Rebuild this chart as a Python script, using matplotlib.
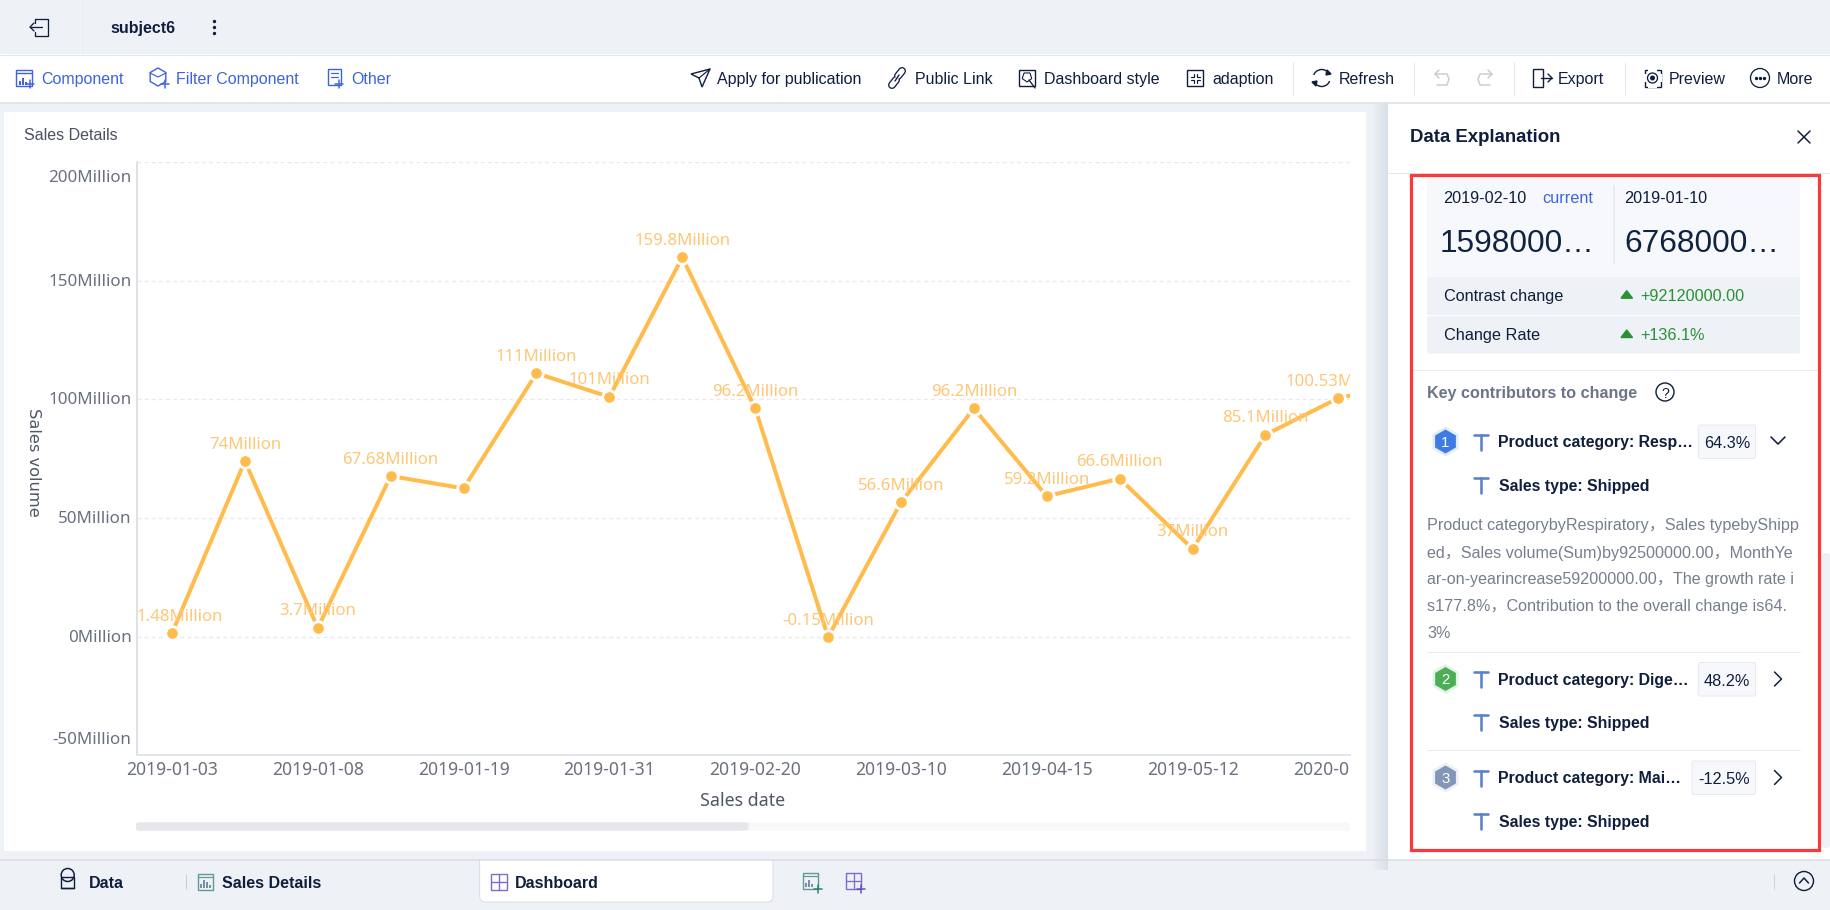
"""Sales Details dashboard with the Data Explanation panel"""

import matplotlib
matplotlib.use('Agg')
import matplotlib.pyplot as plt
from matplotlib.patches import Rectangle, FancyBboxPatch, Circle, RegularPolygon, Polygon
from matplotlib.transforms import ScaledTranslation

W, H = 1830, 910
PX = 0.72  # px to pt at dpi 100

# chart data
tick_dates = ['2019-01-03', '2019-01-08', '2019-01-19', '2019-01-31', '2019-02-20',
              '2019-03-10', '2019-04-15', '2019-05-12', '2020-0']
sales = [1.48, 74, 3.7, 67.68, 62.5, 111, 101, 159.8, 96.2, -0.15, 56.6, 96.2,
         59.2, 66.6, 37, 85.1, 100.53, 107]
point_labels = ['1.48Million', '74Million', '3.7Million', '67.68Million', None, '111Million',
                '101Million', '159.8Million', '96.2Million', '-0.15Million', '56.6Million',
                '96.2Million', '59.2Million', '66.6Million', '37Million', '85.1Million',
                '100.53Million', None]
y_ticks = [-50, 0, 50, 100, 150, 200]
y_tick_labels = ['-50Million', '0Million', '50Million', '100Million', '150Million', '200Million']

# panel text
toolbar_left = [('Component', 41), ('Filter Component', 175.6), ('Other', 351)]
toolbar_right = [('Apply for publication', 717), ('Public Link', 915), ('Dashboard style', 1044),
                 ('adaption', 1212), ('Refresh', 1339), ('Export', 1558), ('Preview', 1669),
                 ('More', 1776.7)]
explain_lines = ['Product categorybyRespiratory，Sales typebyShipp',
                 'ed，Sales volume(Sum)by92500000.00，MonthYe',
                 'ar-on-yearincrease59200000.00，The growth rate i',
                 's177.8%，Contribution to the overall change is64.',
                 '3%']
contributors = [('1', 'Product category: Resp…', '64.3%', '#3F7BE3', 441.5, 1698.3),
                ('2', 'Product category: Dige…', '48.2%', '#4CAF58', 679, 1698.3),
                ('3', 'Product category: Mai…', '-12.5%', '#8296B8', 777.5, 1692)]

BG = '#EEF1F6'
BLUE = '#3E63E0'
DARK = '#0F1E3C'
LINE = '#FFBC4C'
LABEL = '#FDC777'
GREEN = '#2A9135'
UI = ['Liberation Sans', 'Noto Sans CJK SC']

fig = plt.figure(figsize=(W / 100, H / 100), dpi=100, facecolor=BG)
ui = fig.add_axes([0, 0, 1, 1], zorder=0)
ui.set_xlim(0, W)
ui.set_ylim(H, 0)
ui.axis('off')


def rect(x0, y0, x1, y1, color, z=1, **kw):
    ui.add_patch(Rectangle((x0, y0), x1 - x0, y1 - y0, facecolor=color, edgecolor='none', zorder=z, **kw))


def rrect(x0, y0, x1, y1, face, edge='none', r=3, lw=1, z=2):
    ui.add_patch(FancyBboxPatch((x0 + r, y0 + r), x1 - x0 - 2 * r, y1 - y0 - 2 * r,
                                boxstyle=f'round,pad={r},rounding_size={r}', facecolor=face,
                                edgecolor=edge, linewidth=lw * PX, zorder=z))


def seg(xs, ys, color=DARK, lw=1.4, z=3):
    ui.plot(xs, ys, color=color, linewidth=lw * PX, zorder=z, solid_capstyle='round')


def txt(x, y, s, size=16, color=DARK, weight='normal', ha='left', family=UI, **kw):
    ui.text(x, y, s, fontsize=size * PX, color=color, fontweight=weight, ha=ha,
            va='center_baseline', family=family, zorder=5, **kw)


def box_icon(cx, cy, color=DARK, w=16, h=18):
    ui.add_patch(Rectangle((cx - w / 2, cy - h / 2), w, h, facecolor='none', edgecolor=color,
                           linewidth=1.4 * PX, zorder=3))


def plus(cx, cy, color, s=5, lw=1.5):
    seg([cx - s, cx + s], [cy, cy], color, lw)
    seg([cx, cx], [cy - s, cy + s], color, lw)


def t_icon(cx, cy):
    seg([cx - 7, cx + 7], [cy - 7, cy - 7], '#5B82CC', 2.6)
    seg([cx, cx], [cy - 7, cy + 8], '#5B82CC', 2.6)


def mini_bars(xs, heights, base, color):
    ui.bar(xs, [-h for h in heights], bottom=base, width=1.5, color=color, zorder=3)


# page blocks
rect(0, 54, W, 102, 'white')
seg([0, W], [54.5, 54.5], '#E2E5EA', 1.2)
seg([0, W], [102.5, 102.5], '#DFE2E7', 1.5)
seg([83, 83], [0, 54], '#E8EBF0', 1)
rect(4, 112, 1366, 851, 'white')
seg([0, W], [860, 860], '#D9DCE6', 1.5)

# panel shadow
for i in range(16):
    rect(1372 + i, 103, 1373 + i, 870, '#8A94A8', z=1.5, alpha=0.012 * (i + 1))
rect(1388, 103, W, 860, 'white', z=2)
seg([1388, W], [173, 173], '#E4E6EC', 1)

# top bar
x = 40
seg([x - 5, x + 8, x + 8, x - 5, x - 5], [19, 19, 36, 36, 32], DARK, 1.3)
seg([x - 5, x - 5], [19, 23], DARK, 1.3)
seg([x - 10, x + 2], [27, 27], DARK, 1.3)
seg([x - 6, x - 10, x - 6], [23, 27, 31], DARK, 1.3)
txt(110.3, 27, 'subject6', 16, DARK, 'bold')
ui.scatter([213.5] * 3, [21, 27, 33], s=2, color=DARK, zorder=3)

# toolbar
for s, x in toolbar_left:
    txt(x, 78, s, 16, BLUE)
box_icon(24, 78, BLUE, 16, 16)
seg([16, 32], [73, 73], BLUE, 1.4)
mini_bars([20, 23, 26], [4, 7, 3], 85, BLUE)
plus(30, 84, BLUE, 4)
ui.add_patch(RegularPolygon((158, 77), 6, radius=9, facecolor='none', edgecolor=BLUE, linewidth=1.4 * PX, zorder=3))
seg([150, 158, 166], [73, 77, 73], BLUE, 1.2)
plus(165, 84, BLUE, 4)
box_icon(334.5, 77, BLUE, 13, 16)
seg([331, 338], [73, 73], BLUE, 1.2)
seg([331, 338], [77, 77], BLUE, 1.2)
plus(339, 84, BLUE, 4)
for s, x in toolbar_right:
    txt(x, 78, s, 16, DARK)

# apply for publication
ui.add_patch(Polygon([(691, 74), (710, 69), (702, 87), (699, 78)], closed=True, facecolor='none',
                     edgecolor=DARK, linewidth=1.4 * PX, zorder=3))
seg([699, 710], [78, 69], DARK, 1.2)
# public link
for x0, y0, x1, y1 in [(892, 85, 896, 80), (898, 76, 902, 71)]:
    seg([x0, x1], [y0, y1], DARK, 8, z=3)
    seg([x0, x1], [y0, y1], 'white', 5.4, z=3.2)
seg([895, 899], [81, 75], DARK, 1.4, z=3.4)
# dashboard style
box_icon(1027, 78, DARK, 16, 16)
ui.add_patch(RegularPolygon((1027, 77), 5, radius=5, facecolor='none', edgecolor=DARK, linewidth=1.1 * PX, zorder=3))
seg([1029, 1035], [80, 88], DARK, 1.3, z=3)
# adaption
box_icon(1195, 78, DARK, 16, 16)
for sx in (-1, 1):
    for sy in (-1, 1):
        seg([1195 + sx * 4.5, 1195 + sx * 1.5, 1195 + sx * 1.5], [78 + sy * 1.5, 78 + sy * 1.5, 78 + sy * 4.5], DARK, 1.2)
# refresh
ui.add_patch(Circle((1321.7, 78), 8.5, facecolor='none', edgecolor=DARK, linewidth=1.4 * PX, zorder=3))
rect(1312, 75, 1332, 81, 'white', z=3.5)
ui.add_patch(Polygon([(1327, 70), (1331, 74), (1326, 75)], closed=True, color=DARK, zorder=4))
ui.add_patch(Polygon([(1316, 86), (1312, 82), (1317, 81)], closed=True, color=DARK, zorder=4))
# undo, redo
for cx, d in [(1442, 1), (1485, -1)]:
    seg([cx - 7 * d, cx + 5 * d, cx + 7 * d, cx + 5 * d, cx - 5 * d], [74, 74, 79, 85, 85], '#C9CDD4', 1.5)
    seg([cx - 3 * d, cx - 7 * d, cx - 3 * d], [70, 74, 78], '#C9CDD4', 1.5)
# export
box_icon(1538, 78, DARK, 10, 18)
seg([1541, 1552], [78, 78], DARK, 1.4)
seg([1548, 1552, 1548], [74, 78, 82], DARK, 1.4)
# preview
box_icon(1652.5, 78, DARK, 16, 17)
rect(1648, 68, 1657, 88, 'white', z=3.2)
rect(1643, 74, 1662, 82, 'white', z=3.2)
ui.add_patch(Circle((1652.5, 78), 5, facecolor='white', edgecolor=DARK, linewidth=1.3 * PX, zorder=4))
ui.add_patch(Circle((1652.5, 78), 1.8, color=DARK, zorder=4))
# more
ui.add_patch(Circle((1760, 78), 9.5, facecolor='none', edgecolor=DARK, linewidth=1.3 * PX, zorder=3))
ui.scatter([1756, 1760, 1764], [78, 78, 78], s=2, color=DARK, zorder=3)
for x in (1293, 1414.4, 1514, 1624.5):
    seg([x, x], [62, 95], '#E6E8EC', 1)

txt(24.5, 134, 'Sales Details', 16, '#4A5060')

# chart scrollbar
rrect(136, 822.3, 1350, 830.7, '#F8F8F9', r=2)
rrect(136, 822.3, 748.5, 830.7, '#E6E7EB', r=3, z=2.5)

# chart
left, right, top, bottom = 136.5, 1349.6, 162, 755.4
ax = fig.add_axes([left / W, 1 - bottom / H, (right - left) / W, (bottom - top) / H], zorder=1)
ax.patch.set_alpha(0)
positions = list(range(len(sales)))
ax.plot(positions, sales, color=LINE, linewidth=4 * PX, zorder=3, solid_capstyle='butt',
        marker='o', markersize=13.5 * PX, markerfacecolor=LINE, markeredgecolor='white',
        markeredgewidth=2.8 * PX)
ax.set_xlim(-0.487, 16.154)
ax.set_ylim(-50, 200)
ax.set_yticks(y_ticks)
ax.set_yticklabels(y_tick_labels)
ax.set_xticks(positions[:17:2])
ax.set_xticklabels(tick_dates)
ax.tick_params(axis='y', length=0, labelcolor='#6A7080', labelsize=17 * PX, pad=5 * PX)
ax.tick_params(axis='x', length=0, labelcolor='#6A7080', labelsize=17.5 * PX, pad=6 * PX)
for lab in ax.get_xticklabels() + ax.get_yticklabels():
    lab.set_family('Noto Sans')
ax.grid(axis='y', color='#E7E9ED', linewidth=1.3 * PX, linestyle=(0, (3, 2.5)))
ax.set_axisbelow(True)
for name in ('top', 'right'):
    ax.spines[name].set_visible(False)
ax.spines['left'].set_color('#D6D8DD')
ax.spines['left'].set_linewidth(1.5 * PX)
ax.spines['bottom'].set_color('#E3E5EA')
ax.spines['bottom'].set_linewidth(2 * PX)

# the outer y labels sit inside the plot range
yl = ax.get_yticklabels()
for lab, dy in ((yl[0], 17), (yl[-1], -14)):
    lab.set_transform(lab.get_transform() + ScaledTranslation(0, dy / 100, fig.dpi_scale_trans))
for lab in yl[1:-1]:
    lab.set_transform(lab.get_transform() + ScaledTranslation(0, 1 / 100, fig.dpi_scale_trans))
xl = ax.get_xticklabels()[-1]
xl.set_ha('left')
xl.set_transform(xl.get_transform() + ScaledTranslation(-45.5 / 100, 0, fig.dpi_scale_trans))

for i, s in enumerate(point_labels):
    if s is None:
        continue
    dx = 8 if i == 0 else 0
    ax.annotate(s, (positions[i], sales[i]), xytext=(dx * PX, 16.5 * PX), textcoords='offset points',
                ha='center', va='center', fontsize=16.8 * PX, color=LABEL, family='Noto Sans',
                zorder=4, annotation_clip=True, clip_on=True)

ax.set_xlabel('Sales date', fontsize=17.8 * PX, color='#4F5666', family='Noto Sans', labelpad=0)
ax.xaxis.set_label_coords((742.7 - left) / (right - left), -(801 - bottom) / (bottom - top))
ax.xaxis.label.set_va('center')
ax.set_ylabel('Sales volume', fontsize=16.3 * PX, color='#4F5666', rotation=270, family='DejaVu Sans')
ax.yaxis.set_label_coords((33.5 - left) / (right - left), (bottom - 462) / (bottom - top))
ax.yaxis.label.set_va('center')

# data explanation panel
txt(1410.5, 136, 'Data Explanation', 18.6, DARK, 'bold')
seg([1798, 1810], [131, 143], DARK, 1.5)
seg([1798, 1810], [143, 131], DARK, 1.5)

rect(1427, 176, 1800, 277, '#F7F8FC', z=2)
seg([1614, 1614], [186, 263], '#E5E8EF', 1.5)
rect(1427, 277, 1800, 315, '#EEF1F5', z=2)
rrect(1427, 316, 1800, 353.5, '#EEF1F5', r=2)
txt(1443.3, 197.3, '2019-02-10', 16.2)
txt(1542.7, 197.3, 'current', 16.2, BLUE)
txt(1624.3, 197.3, '2019-01-10', 16.2)
txt(1439.5, 241, '1598000…', 31.7, '#0F2340')
txt(1624, 241, '6768000…', 31.7, '#0F2340')
txt(1443.7, 294.7, 'Contrast change', 16.2)
txt(1443.7, 334, 'Change Rate', 16.2)
for y, s in [(294.7, '+92120000.00'), (334, '+136.1%')]:
    ui.add_patch(Polygon([(1621, y + 3.5), (1632.5, y + 3.5), (1626.7, y - 4)], closed=True, color=GREEN, zorder=3))
    txt(1640.7, y, s, 16.2, GREEN)
seg([1412, 1817], [370.3, 370.3], '#E8EAF2', 1)
txt(1427.3, 392.3, 'Key contributors to change', 16.1, '#6B7488', 'bold')
ui.add_patch(Circle((1665, 392), 9, facecolor='none', edgecolor=DARK, linewidth=1.4 * PX, zorder=3))
txt(1665, 392.5, '?', 14, DARK, ha='center')

for rank, name, share, color, y, pill_x in contributors:
    ui.add_patch(RegularPolygon((1445.5, y), 6, radius=15, facecolor=color, alpha=0.15, zorder=3))
    ui.add_patch(RegularPolygon((1445.5, y), 6, radius=12, facecolor=color, zorder=3))
    txt(1445.5, y, rank, 15, 'white', ha='center')
    t_icon(1481, y)
    txt(1497.7, y, name, 15.9, DARK, 'bold')
    rrect(pill_x, y - 16.5, 1755.5, y + 17, '#F7F8FC', '#E6E9F2', r=2)
    txt(1727 if pill_x > 1695 else 1724, y + 1, share, 16.2, DARK, ha='center')
    t_icon(1481, y + 43)
    txt(1499, y + 43, 'Sales type: Shipped', 15.9, DARK, 'bold')
seg([1771, 1778, 1785], [437, 444, 437], DARK, 1.6)
for y in (679, 777.5):
    seg([1774.5, 1781.5, 1774.5], [y - 7, y, y + 7], DARK, 1.5)

for s, y in zip(explain_lines, (524.3, 551.7, 578.3, 605.3, 632.3)):
    txt(1427, y, s, 16.1, '#767E8E')
seg([1427, 1800], [652.3, 652.3], '#E8EAF2', 1)
seg([1427, 1800], [750, 750], '#E8EAF2', 1)

# panel scrollbar and highlight frame
rrect(1822, 553, 1830, 848, '#EEF0F4', r=3)
ui.add_patch(Rectangle((1411, 175), 408, 675, facecolor='none', edgecolor='#F93A3A', linewidth=3.2 * PX, zorder=6))

# bottom bar
rrect(479.6, 852, 773, 902, 'white', '#D9DCE6', r=6, z=1.8)
rect(478, 851, 775, 860, BG, z=1.9)
rect(481, 860.8, 772, 870, 'white', z=1.9)
txt(89, 882, 'Data', 16, DARK, 'bold')
txt(221.7, 882, 'Sales Details', 16, DARK, 'bold')
txt(515, 882, 'Dashboard', 16, DARK, 'bold')
seg([185.5, 185.5], [874, 889], '#C9CDD6', 1)
ui.add_patch(Circle((67.7, 875), 6.5, facecolor='none', edgecolor=DARK, linewidth=1.5 * PX, zorder=3))
box_icon(67.7, 882, DARK, 13, 11)
seg([61, 74], [888, 888], DARK, 1.4)
box_icon(205, 882, '#5E9C92', 15, 16)
seg([198, 212], [877, 877], '#5E9C92', 1.2)
mini_bars([201, 204, 207, 210], [4, 8, 6, 3], 888, '#7D8FA8')
box_icon(499, 882, '#7B6DD0', 16, 16)
seg([491, 507], [882, 882], '#7B6DD0', 1.4)
seg([499, 499], [874, 890], '#7B6DD0', 1.4)
box_icon(810, 881, '#5E9C92', 15, 16)
seg([803, 817], [876, 876], '#5E9C92', 1.2)
mini_bars([806, 809, 812], [4, 7, 3], 887, '#7D8FA8')
plus(818, 889, '#2F7F6E', 4)
box_icon(853.6, 881, '#7B6DD0', 15, 16)
seg([846, 861], [881, 881], '#7B6DD0', 1.3)
seg([853.6, 853.6], [873, 889], '#7B6DD0', 1.3)
plus(861, 889, '#5B4FBF', 4)
seg([1774.4, 1774.4], [874, 889], '#CDD1D9', 1)
ui.add_patch(Circle((1804, 881), 9.5, facecolor='none', edgecolor=DARK, linewidth=1.4 * PX, zorder=3))
seg([1799.5, 1804, 1808.5], [883, 878, 883], DARK, 1.5)

fig.savefig('out.png', dpi=100, facecolor=BG)
